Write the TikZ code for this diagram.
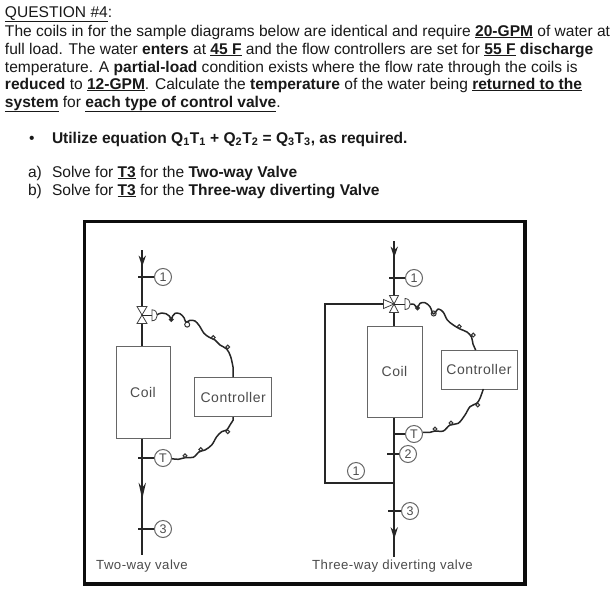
\documentclass[tikz,border=0pt]{standalone}
\usepackage{fontspec}
\setmainfont{Liberation Sans}
\newfontfamily\diagfont[LetterSpace=3.5]{Liberation Sans}
\usetikzlibrary{calc}
\newcommand{\ul}[1]{\underline{#1}}
\tikzset{
 x=1pt,y=-1pt,
 line/.style={anchor=base west,inner sep=0,outer sep=0,font=\fontsize{15.55}{17}\selectfont,text=black!90},
 box/.style={draw=black!60,line width=1pt,fill=white,inner sep=0,font=\diagfont\fontsize{14}{15}\selectfont,text=black!70},
 captext/.style={anchor=base west,inner sep=0,font=\diagfont\fontsize{13.2}{14}\selectfont,text=black!70},
 inst/.style={circle,draw=black!60,line width=1pt,fill=white,minimum size=17pt,inner sep=0,font=\diagfont\fontsize{12.5}{14}\selectfont,text=black!70},
 pipe/.style={draw=black!85,line width=1.5pt},
 wire/.style={draw=black!85,line width=1.5pt,line join=round},
 loopy/.style={draw=black!80,line width=1pt,circle,minimum size=3.8pt,inner sep=0},
 vt/.style={draw=black!75,line width=0.8pt,fill=white,line join=miter},
 head/.style={fill=black!85,draw=none},
 smoothwire/.style={smooth,tension=0.55}
}
\begin{document}
\begin{tikzpicture}
\useasboundingbox (0,0) rectangle (615,589);
\fill[white] (0,0) rectangle (615,589);
% text
\node[line] (t0) at (5,17) {\ul{QUESTION \#4}:};
\node[line] (t1) at (5,36) {The coils in for the sample diagrams below are identical and require \ul{\textbf{20-GPM}} of water at};
\node[line] (t2) at (5,54) {full load. The water \textbf{enters} at \ul{\textbf{45 F}} and the flow controllers are set for \ul{\textbf{55 F}} \textbf{discharge}};
\node[line] (t3) at (5,72) {temperature. A \textbf{partial-load} condition exists where the flow rate through the coils is};
\node[line] (t4) at (5,89) {\textbf{reduced} to \ul{\textbf{12-GPM}}. Calculate the \textbf{temperature} of the water being \ul{\textbf{returned to the}}};
\node[line] (t5) at (5,107) {\ul{\textbf{system}} for \ul{\textbf{each type of control valve}}.};
\node[line] (b0) at (29,143) {\textbullet};
\node[line] (b1) at (52,143) {\textbf{Utilize equation Q\textsubscript{1}T\textsubscript{1} + Q\textsubscript{2}T\textsubscript{2} = Q\textsubscript{3}T\textsubscript{3}, as required.}};
\node[line] (a0) at (28,177) {a)};
\node[line] (a1) at (52,177) {Solve for \ul{\textbf{T3}} for the \textbf{Two-way Valve}};
\node[line] (c0) at (28,195) {b)};
\node[line] (c1) at (52,195) {Solve for \ul{\textbf{T3}} for the \textbf{Three-way diverting Valve}};
% frame
\draw[line width=3.4pt,black!95] (84.5,221.5) rectangle (525,584);

% ---------- two-way ----------
\node[box,minimum width=54pt,minimum height=92pt] (coilL) at (143,392) {Coil};
\node[box,minimum width=76.5pt,minimum height=39pt] (ctrlL) at (233.2,397) {Controller};
\coordinate (topL) at (142,250);
\coordinate (botL) at (142,555);
\coordinate (valveL) at (142,315);
\coordinate (tk1L) at (138,277);
\coordinate (tkTL) at (138,458);
\coordinate (tk3L) at (138,529);
\node[inst] (n1L) at (163,277) {1};
\node[inst] (nTL) at (163,458) {T};
\node[inst] (n3L) at (163,529) {3};
\draw[pipe] (topL) -- (valveL) -- (valveL |- coilL.north);
\draw[pipe] (valveL |- coilL.south) -- (botL);
\draw[pipe] (tk1L) -- (n1L);
\draw[pipe] (tkTL) -- (nTL);
\draw[pipe] (tk3L) -- (n3L);
\fill[head] (142.2,266.5) -- (138.5,255.5) -- (142.2,259) -- (146,255.5) -- cycle;
\fill[head] (142.2,499) -- (138.5,482.5) -- (142.2,488) -- (146,482.5) -- cycle;
\draw[vt] (valveL) -- ++(-5,-8.5) -- ++(10,0) -- cycle;
\draw[vt] (valveL) -- ++(-5,8.5) -- ++(10,0) -- cycle;
\draw[pipe,line width=1pt] (valveL) -- (152,315);
\coordinate (actL) at (157.4,315);
\draw[vt] (152,309.8) -- (152,320.8) .. controls (159,320.8) and (159,309.8) .. (152,309.8) -- cycle;
% wire L upper
\draw[wire] (actL) -- (157.7,314.3) plot[smoothwire] coordinates {(157.7,314.3) (161.7,313) (166,313.7) (169.3,316) (171.3,319) (172.7,316) (175,313.3) (180,313.7) (184,317.7) (186,322.3) (190,320.3) (195,321) (199.3,325.7) (204,333.3) (209.3,337.3) (215,340) (220,345) (226.7,349) (230.7,356.7) (233.2,368)} -- (ctrlL.north);
\node[loopy,fill=black!85] (wa) at (171.3,319.5) {};
\node[loopy,minimum size=5pt] (wb) at (187.2,324.6) {};
\node[loopy] (wc) at (213.3,337.5) {};
\node[loopy] (wd) at (227.7,347) {};
% wire L lower
\draw[wire] (nTL) -- (172,458.7) plot[smoothwire] coordinates {(172,458.7) (178.3,459.3) (185,457.7) (193.3,457.3) (199.3,451.7) (205,450) (211.7,445) (216.7,436.7) (221.7,431.7) (226.7,430) (230,425) (233.2,420)} -- (ctrlL.south);
\node[loopy] (we) at (185,455.7) {};
\node[loopy] (wf) at (200.7,449.5) {};
\node[loopy] (wg) at (227.7,431.7) {};

\node[captext] (capL) at (96,569) {Two-way valve};

% ---------- three-way ----------
\node[box,minimum width=55pt,minimum height=91pt] (coilR) at (394.5,371.5) {Coil};
\node[box,minimum width=76pt,minimum height=39pt] (ctrlR) at (479,369.5) {Controller};
\coordinate (topR) at (394,241);
\coordinate (botR) at (394,557);
\coordinate (valveR) at (394,304);
\coordinate (leftTop) at (325,304);
\coordinate (leftBot) at (325,483);
\coordinate (junc) at (394,483);
\coordinate (tk1R) at (389,278);
\coordinate (tk2R) at (387,454);
\coordinate (tkTR) at (394,434);
\coordinate (tk3R) at (388,511);
\node[inst] (n1R) at (414,278) {1};
\node[inst] (nTR) at (414,434) {T};
\node[inst] (n2R) at (408,454) {2};
\node[inst] (n3R) at (410,511) {3};
\node[inst] (n1b) at (356,471) {1};
\draw[pipe] (topR) -- (valveR) -- (valveR |- coilR.north);
\draw[pipe] (valveR |- coilR.south) -- (botR);
\draw[pipe] (valveR) -- (leftTop) -- (leftBot) -- (junc);
\draw[pipe] (tk1R) -- (n1R);
\draw[pipe] (tkTR) -- (nTR);
\draw[pipe] (tk2R) -- (n2R);
\draw[pipe] (tk3R) -- (n3R);
\fill[head] (394.2,257.5) -- (390.5,246.5) -- (394.2,250) -- (398,246.5) -- cycle;
\fill[head] (394.2,539) -- (390.5,527) -- (394.2,531) -- (398,527) -- cycle;
\draw[vt] (valveR) -- ++(-4.5,-8.5) -- ++(9,0) -- cycle;
\draw[vt] (valveR) -- ++(-4.5,8.5) -- ++(9,0) -- cycle;
\draw[vt] (valveR) -- ++(-10.5,-4.5) -- ++(0,9) -- cycle;
\draw[pipe,line width=1pt] (valveR) -- (405,304);
\coordinate (actR) at (410.5,304);
\draw[vt] (405,298.5) -- (405,309.5) .. controls (412,309.5) and (412,298.5) .. (405,298.5) -- cycle;
% wire R upper
\draw[wire] (actR) -- (410.7,304.3) plot[smoothwire] coordinates {(410.7,304.3) (414,304.3) (417.3,307.7) (420,303.3) (425,302.7) (430,306.7) (433.5,314) (438.3,309) (443.3,312.3) (447.3,320) (453.3,325) (460,329) (467,332) (471.5,337) (473,344) (475.7,350)};
\node[loopy,fill=black!85] (wh) at (417.5,308) {};
\node[loopy,minimum size=5pt] (wi) at (433.7,313.5) {};
\node[loopy] (wj) at (459.3,326.5) {};
\node[loopy] (wk) at (473.3,335) {};
% wire R lower
\draw[wire] (nTR) -- (423.3,432.3) plot[smoothwire] coordinates {(423.3,432.3) (430,432.3) (435,431) (443.3,431) (450,425) (458.3,423.3) (465,415) (470,406.7) (476.7,403.3) (480,398.3) (483.3,389)};
\node[loopy] (wl) at (435,429) {};
\node[loopy] (wm) at (451,423) {};
\node[loopy] (wn) at (477.7,405) {};

\node[captext] (capR) at (312,569) {Three-way diverting valve};
\end{tikzpicture}
\end{document}
